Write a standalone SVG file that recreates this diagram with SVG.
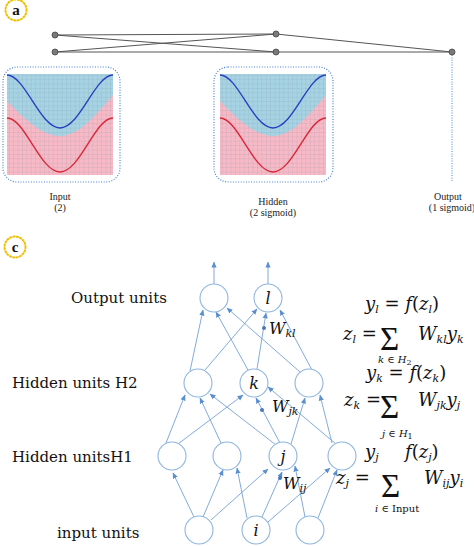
<svg xmlns="http://www.w3.org/2000/svg" width="474" height="546" viewBox="0 0 474 546">
<style>
.badge{fill:#fff;stroke:#f0c000;stroke-width:2;stroke-dasharray:1.2 2.2;stroke-linecap:round}
.badgetxt{font-family:"Liberation Serif",serif;font-weight:bold;font-size:15px;text-anchor:middle;fill:#111}
.tl{stroke:#555;stroke-width:1;fill:none}
.tn{fill:#7a7a7a;stroke:#444;stroke-width:0.8}
.pb{fill:none;stroke:#4a7fd0;stroke-width:1.2;stroke-dasharray:1 1.6}
.cap{font-family:"Liberation Serif",serif;font-size:10px;text-anchor:middle;fill:#222}
.bc{fill:none;stroke:#2840c0;stroke-width:1.4}
.rc{fill:none;stroke:#d8283a;stroke-width:1.4}
.n{fill:#fff;stroke:#8fb5de;stroke-width:1.1}
.e{stroke:#74a2d6;stroke-width:0.9;fill:none;marker-end:url(#ah)}
.dot{fill:#4a78b8}
.lay{font-family:"DejaVu Serif",serif;font-size:15px;fill:#111}
.v{font-family:"DejaVu Serif",serif;font-style:italic;font-size:16px;fill:#111}
.m{font-family:"DejaVu Serif",serif;font-size:18px;fill:#111}
.mi{font-style:italic}
.s{font-size:11px}
.sig{font-family:"Liberation Serif",serif;font-size:33px;fill:#111}
.lim{font-family:"DejaVu Serif",serif;font-size:10px;fill:#111}
</style>
<defs>
<pattern id="grid" width="4.4" height="4.4" patternUnits="userSpaceOnUse">
<path d="M0,0 H4.4 M0,0 V4.4" stroke="#7a8a9a" stroke-width="0.5" stroke-opacity="0.55" fill="none"/>
</pattern>
<marker id="ah" markerUnits="userSpaceOnUse" markerWidth="6" markerHeight="6" refX="5.5" refY="3" orient="auto">
<path d="M0,0.4 L6,3 L0,5.6 z" fill="#5a8fd0"/>
</marker>
<g id="plot">
<rect x="7" y="74" width="106" height="101" fill="#f7b9c6"/>
<path d="M7,74 H113 V95 C92,120 77,136 60,136 C45,136 30,125 7,101 Z" fill="#a6d3e3"/>
<rect x="7" y="74" width="106" height="101" fill="url(#grid)"/>
<path class="bc" d="M7,75 C25,75 40,128 60,128 C80,128 95,75 113,75"/>
<path class="rc" d="M7,118 C25,118 40,172 60,172 C80,172 95,118 113,118"/>
</g>
</defs>

<g id="badge-a">
<circle class="badge" cx="16" cy="10" r="10.5"/>
<text class="badgetxt" x="16" y="15">a</text>
</g>

<g id="top-connectors">
<line class="tl" x1="55" y1="35" x2="276" y2="34"/>
<line class="tl" x1="55" y1="35" x2="276" y2="52"/>
<line class="tl" x1="55" y1="52" x2="276" y2="34"/>
<line class="tl" x1="55" y1="52" x2="276" y2="52"/>
<line class="tl" x1="276" y1="34" x2="452" y2="52"/>
<line class="tl" x1="276" y1="52" x2="452" y2="52"/>
<line x1="452" y1="55" x2="452" y2="181" stroke="#6a9ad0" stroke-width="1.2" stroke-dasharray="1 1.4"/>
</g>
<g id="top-in1"><circle class="tn" cx="55" cy="35" r="3"/></g>
<g id="top-in2"><circle class="tn" cx="55" cy="52" r="3"/></g>
<g id="top-h1"><circle class="tn" cx="276" cy="34" r="3"/></g>
<g id="top-h2"><circle class="tn" cx="276" cy="52" r="3"/></g>
<g id="top-out"><circle class="tn" cx="452" cy="52" r="3"/></g>

<g id="panel-input">
<rect class="pb" x="3" y="67" width="117" height="115" rx="14"/>
<use href="#plot"/>
</g>
<g id="panel-hidden">
<rect class="pb" x="214" y="67" width="119" height="115" rx="14"/>
<use href="#plot" transform="translate(213,0)"/>
</g>

<g id="caption-input"><text class="cap" x="60" y="200">Input</text><text class="cap" x="60" y="211">(2)</text></g>
<g id="caption-hidden"><text class="cap" x="273" y="205">Hidden</text><text class="cap" x="273" y="216">(2 sigmoid)</text></g>
<g id="caption-output"><text class="cap" x="448" y="200">Output</text><text class="cap" x="452" y="211">(1 sigmoid)</text></g>

<g id="badge-c">
<circle class="badge" cx="15" cy="247" r="10.5"/>
<text class="badgetxt" x="15" y="252">c</text>
</g>

<g id="layer-labels">
<text class="lay" x="71" y="303">Output units</text>
<text class="lay" x="12" y="388">Hidden units H2</text>
<text class="lay" x="12" y="462">Hidden unitsH1</text>
<text class="lay" x="57" y="538">input units</text>
</g>

<g id="connectors">
<line class="e" x1="214" y1="284" x2="214" y2="262"/>
<line class="e" x1="268" y1="284" x2="268" y2="262"/>
<line class="e" x1="190" y1="371" x2="203" y2="310"/>
<line class="e" x1="205" y1="370" x2="257" y2="309"/>
<line class="e" x1="248" y1="370" x2="216" y2="312"/>
<line class="e" x1="257" y1="369" x2="266" y2="313"/>
<line class="e" x1="300" y1="372" x2="227" y2="308"/>
<line class="e" x1="312" y1="370" x2="280" y2="310"/>
<line class="e" x1="166" y1="443" x2="185" y2="395"/>
<line class="e" x1="178" y1="444" x2="243" y2="395"/>
<line class="e" x1="221" y1="443" x2="200" y2="398"/>
<line class="e" x1="276" y1="445" x2="210" y2="394"/>
<line class="e" x1="280" y1="443" x2="256" y2="398"/>
<line class="e" x1="336" y1="444" x2="268" y2="387"/>
<line class="e" x1="291" y1="444" x2="305" y2="398"/>
<line class="e" x1="332" y1="443" x2="320" y2="395"/>
<line class="e" x1="194" y1="517" x2="173" y2="473"/>
<line class="e" x1="203" y1="517" x2="223" y2="470"/>
<line class="e" x1="247" y1="518" x2="237" y2="468"/>
<line class="e" x1="211" y1="520" x2="268" y2="469"/>
<line class="e" x1="262" y1="517" x2="282" y2="472"/>
<line class="e" x1="305" y1="517" x2="295" y2="466"/>
<line class="e" x1="268" y1="522" x2="330" y2="468"/>
<line class="e" x1="318" y1="518" x2="337" y2="470"/>
<circle class="dot" cx="264" cy="328" r="2"/>
<circle class="dot" cx="262" cy="410" r="2"/>
<circle class="dot" cx="280" cy="478" r="2"/>
</g>

<g id="out1"><circle class="n" cx="214" cy="298" r="14"/></g>
<g id="out2"><circle class="n" cx="268" cy="298" r="14"/><text class="v" x="268" y="304" text-anchor="middle">l</text></g>
<g id="h2-1"><circle class="n" cx="198" cy="383" r="14"/></g>
<g id="h2-2"><circle class="n" cx="254" cy="383" r="14"/><text class="v" x="254" y="389" text-anchor="middle">k</text></g>
<g id="h2-3"><circle class="n" cx="309" cy="383" r="14"/></g>
<g id="h1-1"><circle class="n" cx="172" cy="456" r="14"/></g>
<g id="h1-2"><circle class="n" cx="227" cy="456" r="14"/></g>
<g id="h1-3"><circle class="n" cx="283" cy="456" r="14"/><text class="v" x="283" y="462" text-anchor="middle">j</text></g>
<g id="h1-4"><circle class="n" cx="342" cy="456" r="14"/></g>
<g id="in1"><circle class="n" cx="199" cy="530" r="14"/></g>
<g id="in2"><circle class="n" cx="256" cy="530" r="14"/><text class="v" x="256" y="536" text-anchor="middle">i</text></g>
<g id="in3"><circle class="n" cx="310" cy="530" r="14"/></g>

<g id="weight-labels">
<text class="v" x="269" y="334">W<tspan class="s" dy="3">kl</tspan></text>
<text class="v" x="272" y="412">W<tspan class="s" dy="3">jk</tspan></text>
<text class="v" x="283" y="489">W<tspan class="s" dy="3">ij</tspan></text>
</g>

<g id="equations">
<text class="m" x="365" y="310"><tspan class="mi">y</tspan><tspan class="mi s" dy="3">l</tspan><tspan dy="-3"> = </tspan><tspan class="mi">f</tspan>(<tspan class="mi">z</tspan><tspan class="mi s" dy="3">l</tspan><tspan dy="-3">)</tspan></text>
<text class="m" x="343" y="340"><tspan class="mi">z</tspan><tspan class="mi s" dy="3">l</tspan><tspan dy="-3"> =</tspan></text>
<text class="sig" x="380" y="350">Σ</text>
<text class="m" x="418" y="340"><tspan class="mi">W</tspan><tspan class="mi s" dy="3">kl</tspan><tspan class="mi" dy="-3">y</tspan><tspan class="mi s" dy="3">k</tspan></text>
<text class="lim" x="378" y="363"><tspan font-style="italic">k</tspan> ∈ <tspan font-style="italic">H</tspan><tspan dy="2" font-size="8">2</tspan></text>

<text class="m" x="366" y="379"><tspan class="mi">y</tspan><tspan class="mi s" dy="3">k</tspan><tspan dy="-3"> = </tspan><tspan class="mi">f</tspan>(<tspan class="mi">z</tspan><tspan class="mi s" dy="3">k</tspan><tspan dy="-3">)</tspan></text>
<text class="m" x="344" y="406"><tspan class="mi">z</tspan><tspan class="mi s" dy="3">k</tspan><tspan dy="-3"> =</tspan></text>
<text class="sig" x="380" y="418">Σ</text>
<text class="m" x="418" y="406"><tspan class="mi">W</tspan><tspan class="mi s" dy="3">jk</tspan><tspan class="mi" dy="-3">y</tspan><tspan class="mi s" dy="3">j</tspan></text>
<text class="lim" x="382" y="437"><tspan font-style="italic">j</tspan> ∈ <tspan font-style="italic">H</tspan><tspan dy="2" font-size="8">1</tspan></text>

<text class="m" x="365" y="458"><tspan class="mi">y</tspan><tspan class="mi s" dy="3">j</tspan></text>
<text class="m" x="405" y="458"><tspan class="mi">f</tspan>(<tspan class="mi">z</tspan><tspan class="mi s" dy="3">j</tspan><tspan dy="-3">)</tspan></text>
<text class="m" x="336" y="484"><tspan class="mi">z</tspan><tspan class="mi s" dy="3">j</tspan><tspan dy="-3"> =</tspan></text>
<text class="sig" x="381" y="497">Σ</text>
<text class="m" x="424" y="484"><tspan class="mi">W</tspan><tspan class="mi s" dy="3">ij</tspan><tspan class="mi" dy="-3">y</tspan><tspan class="mi s" dy="3">i</tspan></text>
<text class="lim" x="375" y="512"><tspan font-style="italic">i</tspan> ∈ Input</text>
</g>
</svg>
